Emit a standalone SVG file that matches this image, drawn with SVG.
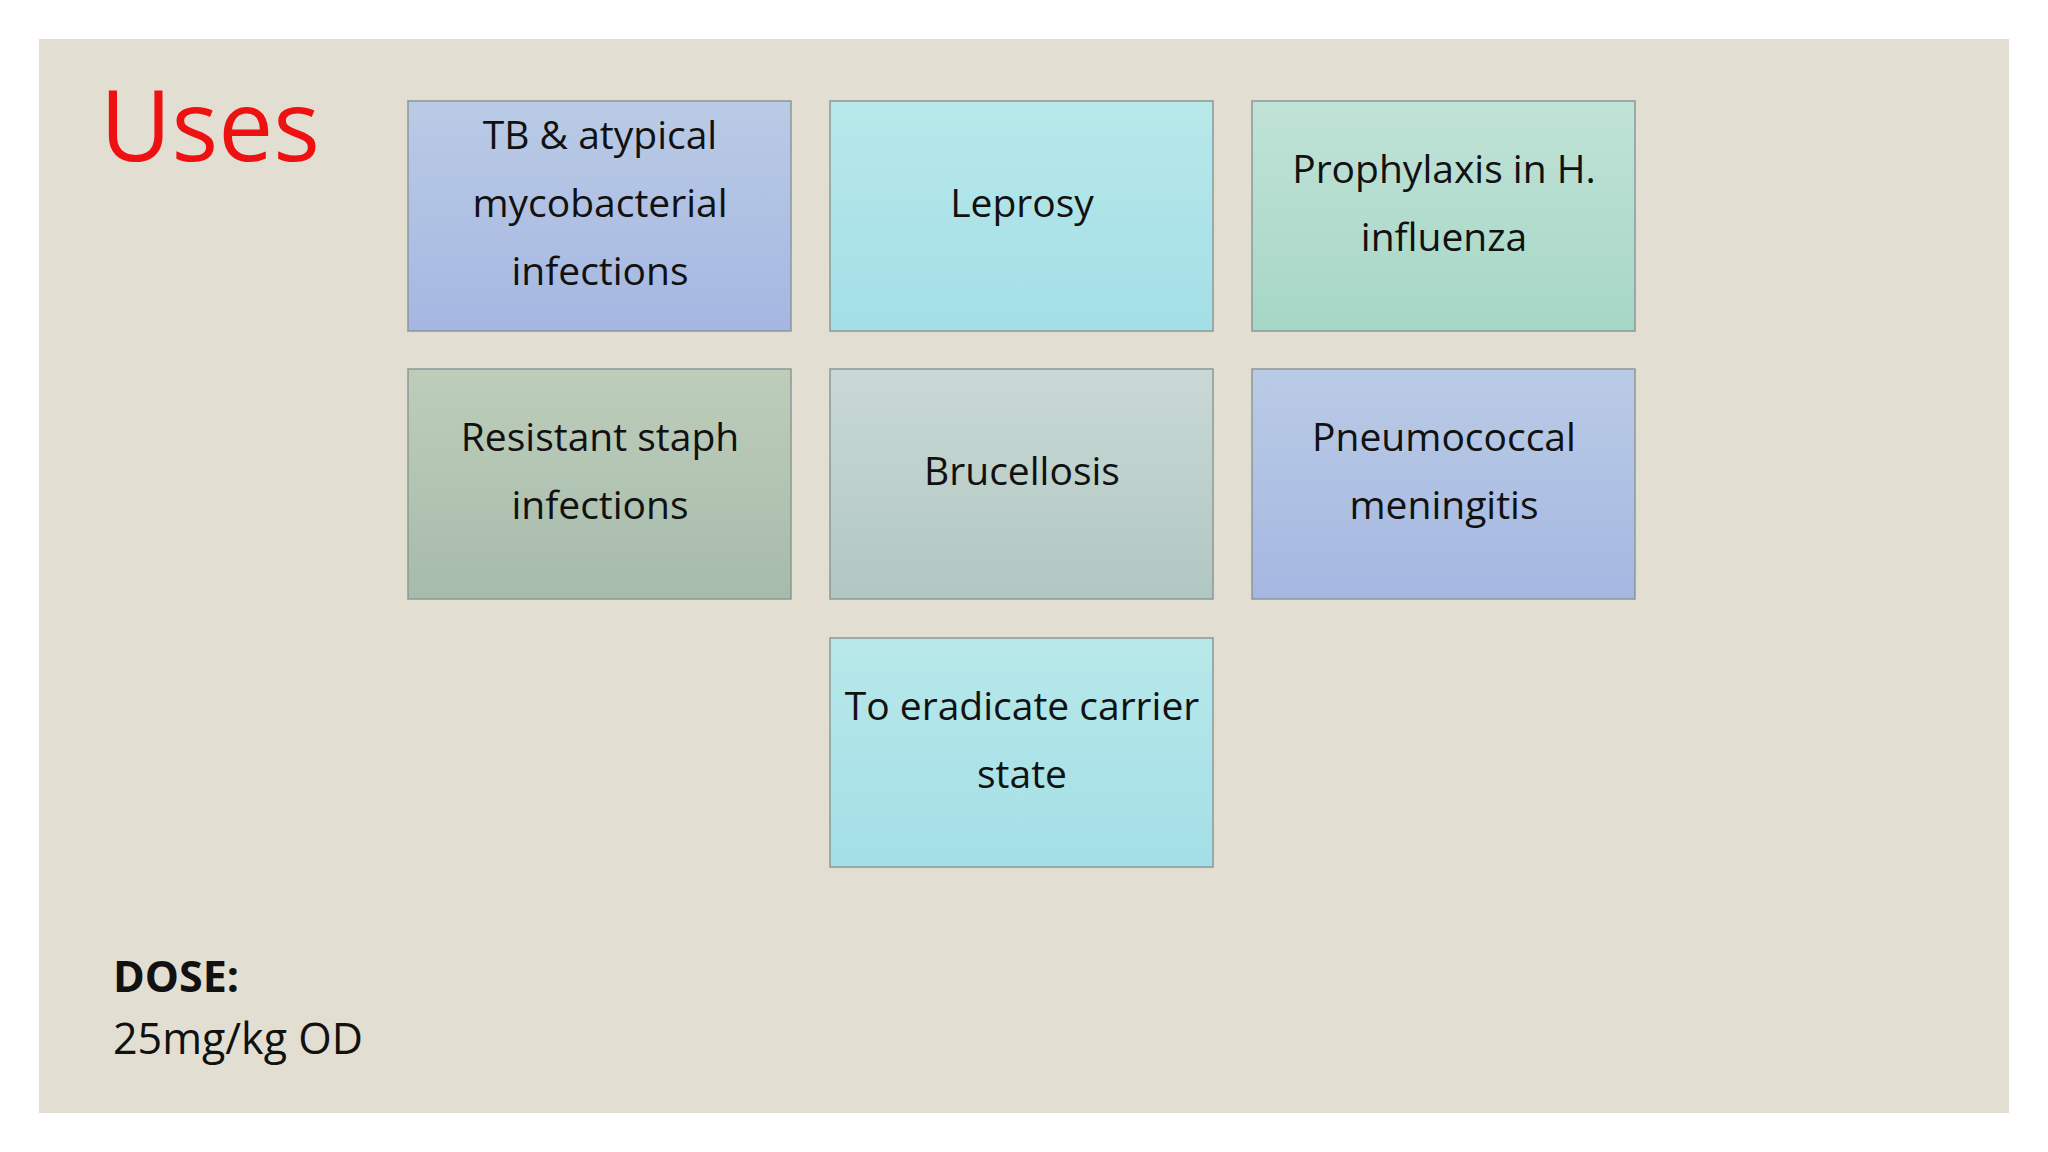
<svg xmlns="http://www.w3.org/2000/svg" width="2048" height="1152" viewBox="0 0 2048 1152">
<defs>
<linearGradient id="gBlue" x1="0" y1="0" x2="0" y2="1"><stop offset="0" stop-color="#bacbe6"/><stop offset="1" stop-color="#a5b7e1"/></linearGradient>
<linearGradient id="gCyan" x1="0" y1="0" x2="0" y2="1"><stop offset="0" stop-color="#b8e8ea"/><stop offset="1" stop-color="#a3dfe6"/></linearGradient>
<linearGradient id="gMint" x1="0" y1="0" x2="0" y2="1"><stop offset="0" stop-color="#c0e3d7"/><stop offset="1" stop-color="#a6d6c6"/></linearGradient>
<linearGradient id="gSage" x1="0" y1="0" x2="0" y2="1"><stop offset="0" stop-color="#bdcdba"/><stop offset="1" stop-color="#a7bbab"/></linearGradient>
<linearGradient id="gGrey" x1="0" y1="0" x2="0" y2="1"><stop offset="0" stop-color="#c9d9d5"/><stop offset="1" stop-color="#b1c7c2"/></linearGradient>
</defs>
<style>
.box{stroke:#8c9898;stroke-width:1.5}
.t{font-family:"Open Sans","Noto Sans",sans-serif;font-size:39px;fill:#111;text-anchor:middle}
</style>
<rect width="2048" height="1152" fill="#ffffff"/>
<rect x="39" y="39" width="1970" height="1074" fill="#e3ded2"/>
<text x="100" y="161" font-family="Open Sans, Noto Sans, sans-serif" font-size="98" fill="#ee1111">Uses</text>
<g id="n1"><rect class="box" x="408" y="101" width="383" height="230" fill="url(#gBlue)"/>
<text class="t" x="600" y="149">TB &amp; atypical</text><text class="t" x="600" y="217">mycobacterial</text><text class="t" x="600" y="285">infections</text></g>
<g id="n2"><rect class="box" x="830" y="101" width="383" height="230" fill="url(#gCyan)"/>
<text class="t" x="1022" y="217">Leprosy</text></g>
<g id="n3"><rect class="box" x="1252" y="101" width="383" height="230" fill="url(#gMint)"/>
<text class="t" x="1444" y="183">Prophylaxis in H.</text><text class="t" x="1444" y="251">influenza</text></g>
<g id="n4"><rect class="box" x="408" y="369" width="383" height="230" fill="url(#gSage)"/>
<text class="t" x="600" y="451">Resistant staph</text><text class="t" x="600" y="519">infections</text></g>
<g id="n5"><rect class="box" x="830" y="369" width="383" height="230" fill="url(#gGrey)"/>
<text class="t" x="1022" y="485">Brucellosis</text></g>
<g id="n6"><rect class="box" x="1252" y="369" width="383" height="230" fill="url(#gBlue)"/>
<text class="t" x="1444" y="451">Pneumococcal</text><text class="t" x="1444" y="519">meningitis</text></g>
<g id="n7"><rect class="box" x="830" y="638" width="383" height="229" fill="url(#gCyan)"/>
<text class="t" x="1022" y="720">To eradicate carrier</text><text class="t" x="1022" y="788">state</text></g>
<g id="connectors"></g>
<text x="113" y="992" font-family="Open Sans, Noto Sans, sans-serif" font-size="43" font-weight="bold" fill="#111">DOSE:</text>
<text x="113" y="1054" font-family="Open Sans, Noto Sans, sans-serif" font-size="43" fill="#111">25mg/kg OD</text>
</svg>
